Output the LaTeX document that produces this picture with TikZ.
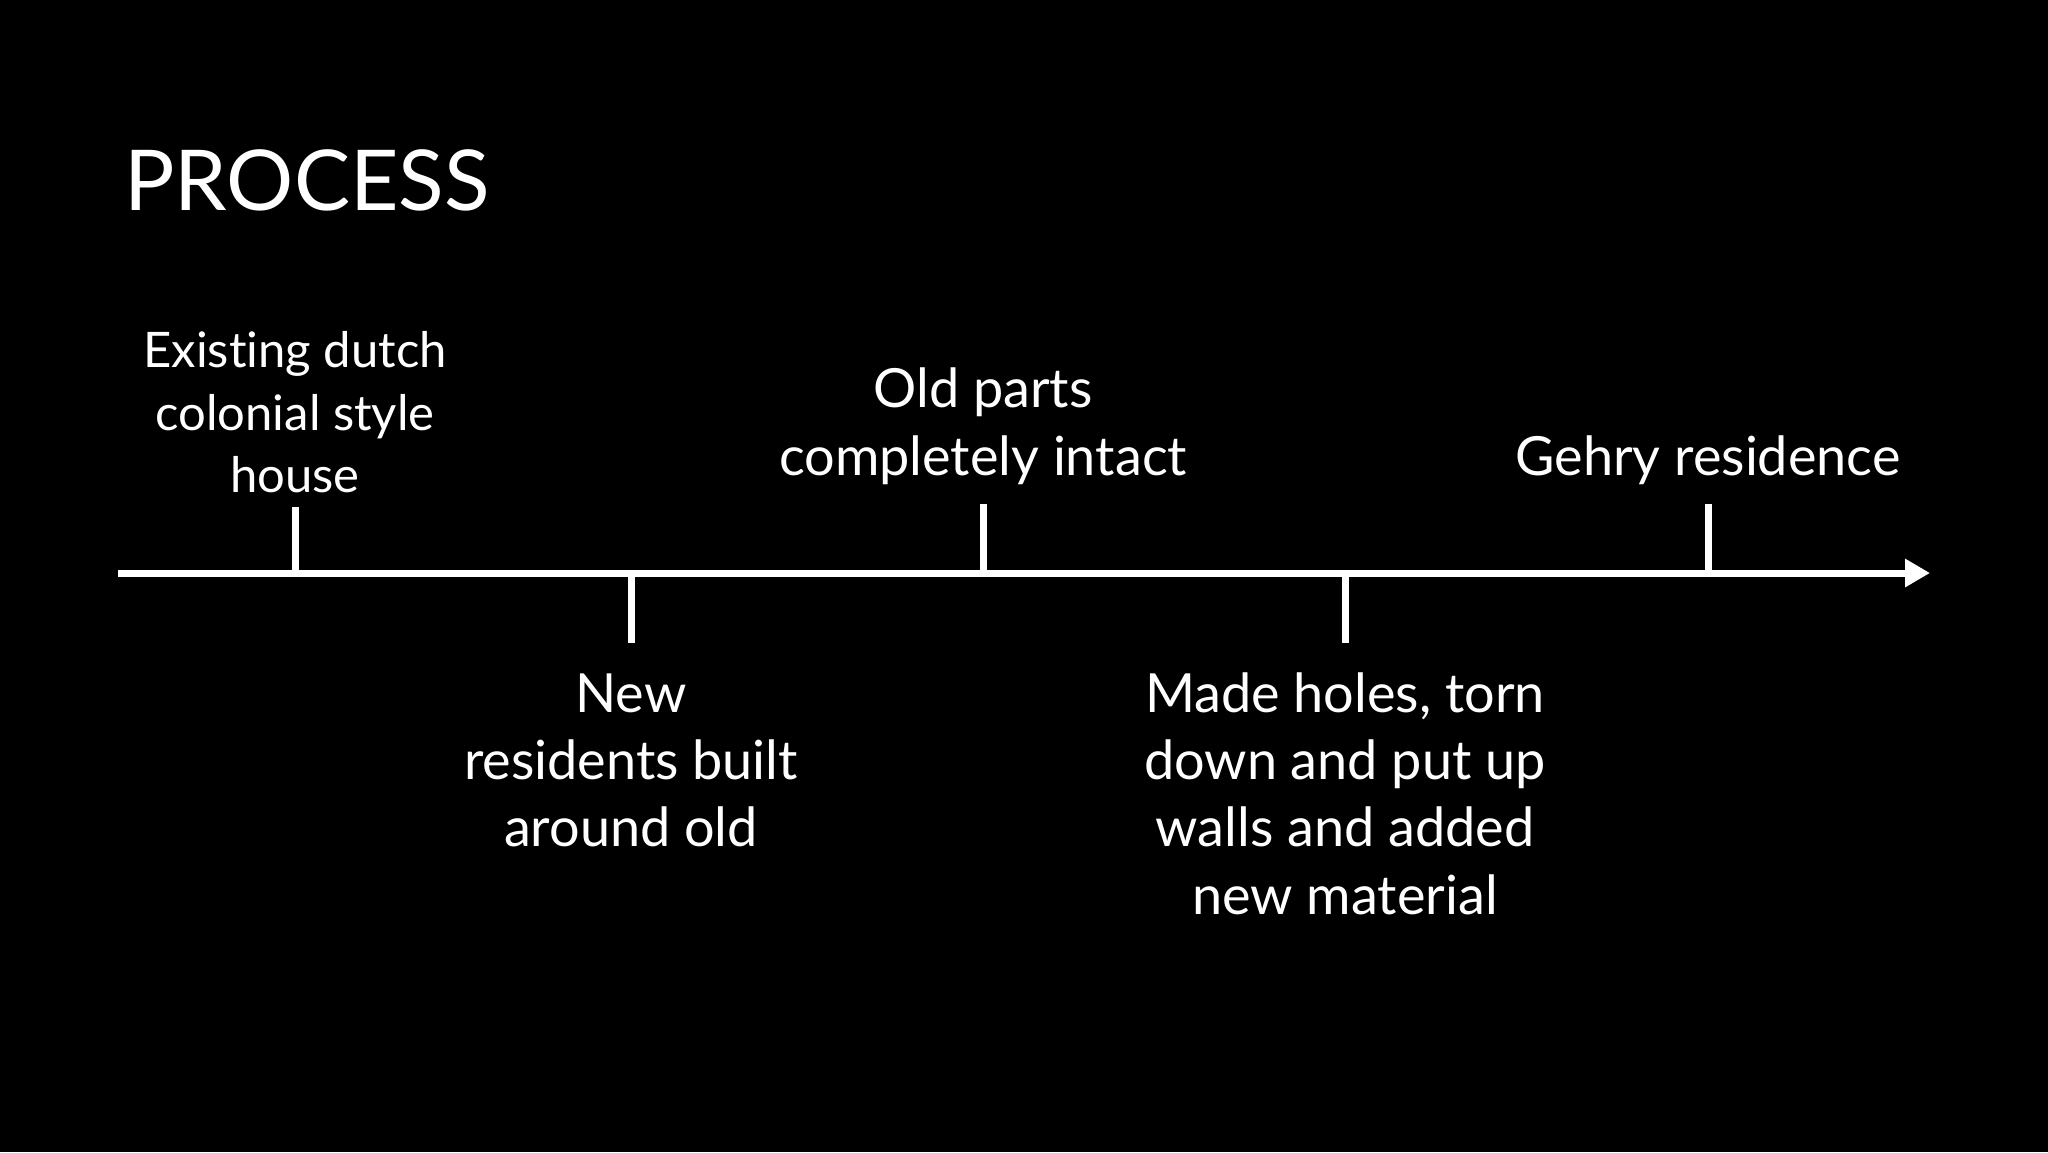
\documentclass[tikz,border=0pt]{standalone}
\usepackage{fontspec}
\setmainfont{Lato}[Ligatures=NoCommon]
\usetikzlibrary{arrows.meta}
\begin{document}
\begin{tikzpicture}[x=1pt,y=-1pt,
  line/.style={white,line width=7pt},
  lab/.style={text=white,anchor=base,inner sep=0pt,font=\fontsize{54}{68}\selectfont},
  labs/.style={text=white,anchor=base,inner sep=0pt,font=\fontsize{49}{63}\selectfont}]
\fill[black] (0,0) rectangle (2048,1152);
\useasboundingbox (0,0) rectangle (2048,1152);
\node[text=white,anchor=base west,inner sep=0pt,font=\fontsize{84}{100}\selectfont] (title) at (124,210) {PROCESS};
% timeline
\coordinate (s) at (118,573);
\coordinate (e) at (1930,573);
\draw[line,-{Triangle[length=25pt,width=27pt]}] (s) -- (e);
% ticks
\coordinate (t1a) at (295,507); \coordinate (t1b) at (295,573);
\coordinate (t2a) at (631,573); \coordinate (t2b) at (631,643);
\coordinate (t3a) at (983,504); \coordinate (t3b) at (983,573);
\coordinate (t4a) at (1345,573); \coordinate (t4b) at (1345,643);
\coordinate (t5a) at (1708,504); \coordinate (t5b) at (1708,573);
\draw[line] (t1a) -- (t1b);
\draw[line] (t2a) -- (t2b);
\draw[line] (t3a) -- (t3b);
\draw[line] (t4a) -- (t4b);
\draw[line] (t5a) -- (t5b);
% labels
\node[labs] (l1a) at (295,367) {Existing dutch};
\node[labs] (l1b) at (295,430) {colonial style};
\node[labs] (l1c) at (295,492) {house};
\node[lab] (l2a) at (631,712) {New};
\node[lab] (l2b) at (631,779) {residents built};
\node[lab] (l2c) at (631,846) {around old};
\node[lab] (l3a) at (983,407) {Old parts};
\node[lab] (l3b) at (983,475) {completely intact};
\node[lab] (l4a) at (1345,712) {Made holes, torn};
\node[lab] (l4b) at (1345,779) {down and put up};
\node[lab] (l4c) at (1345,846) {walls and added};
\node[lab] (l4d) at (1345,914) {new material};
\node[lab] (l5a) at (1708,475) {Gehry residence};
\end{tikzpicture}
\end{document}
